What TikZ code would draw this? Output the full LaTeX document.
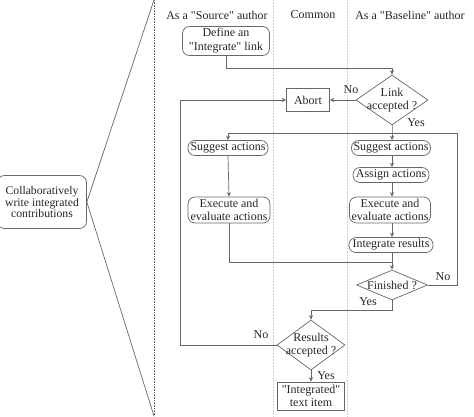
\documentclass[tikz,border=0pt]{standalone}
\usepackage{fontspec}
\setmainfont{Liberation Serif}[Ligatures=TeXOff]
\usetikzlibrary{shapes.geometric,arrows.meta}
\newcommand{\dqm}{\char34\relax}
\begin{document}
\begin{tikzpicture}[x=1pt,y=-1pt,
  every node/.style={font=\fontsize{12}{13}\selectfont, inner sep=0pt, align=center, text=black!85},
  rbox/.style={draw=black!60, line width=0.7pt, rounded corners=7pt, rectangle},
  sbox/.style={draw=black!60, line width=0.7pt, rectangle},
  dmd/.style={draw=black!60, line width=0.7pt, diamond, inner sep=0pt},
  conn/.style={draw=black!60, line width=0.7pt},
  arr/.style={conn, -{Stealth[length=4.5pt,width=4pt]}},
  lane/.style={draw=black!18, line width=0.5pt, densely dotted},
  lbl/.style={font=\fontsize{12}{13}\selectfont}
]
\useasboundingbox (0,0) rectangle (474,416);

% lane separators
\draw[lane] (273,0) -- (273,416);
\draw[lane] (347,0) -- (347,416);

% left node and bracket
\node[rbox, minimum width=89, minimum height=53, font=\fontsize{11.7}{11.5}\selectfont] (collab) at (42,202) {Collaboratively\\write integrated\\contributions};
\coordinate (ctop) at (154,0);
\coordinate (cbot) at (154,416);
\draw[conn] (collab.east) -- (ctop);
\draw[conn] (collab.east) -- (cbot);
\draw[draw=black!60, line width=0.6pt, densely dotted] (ctop) -- (cbot);

% headers
\node (h1) at (217,15) {As a \dqm Source\dqm{} author};
\node (h2) at (313,15) {Common};
\node (h3) at (410,15) {As a \dqm Baseline\dqm{} author};

% nodes
\node[rbox, minimum width=87, minimum height=29, font=\fontsize{12}{14}\selectfont] (define) at (226,41) {Define an\\\dqm Integrate\dqm{} link};
\node[dmd, minimum width=72, minimum height=50, label={[lbl,align=center]center:Link\\accepted ?}] (link) at (392,100) {};
\node[sbox, minimum width=43, minimum height=23] (abort) at (308,100) {Abort};
\node[rbox, minimum width=80, minimum height=15] (sA) at (228,148) {Suggest actions};
\node[rbox, minimum width=79, minimum height=15] (sB) at (391,148) {Suggest actions};
\node[rbox, minimum width=76, minimum height=15] (assign) at (391,175) {Assign actions};
\node[rbox, minimum width=81, minimum height=26] (exB) at (390,210) {Execute and\\evaluate actions};
\node[rbox, minimum width=82, minimum height=26] (exA) at (229,210) {Execute and\\evaluate actions};
\node[rbox, minimum width=84, minimum height=15] (integ) at (391,245) {Integrate results};
\node[dmd, minimum width=71, minimum height=30, label={[lbl]center:Finished ?}] (fin) at (392,285) {};
\node[dmd, minimum width=68, minimum height=50, label={[lbl,align=center]center:Results\\accepted ?}] (res) at (311,345) {};
\node[sbox, minimum width=67, minimum height=28] (item) at (311,396) {\dqm Integrated\dqm\\text item};

% connectors
\draw[arr] (define.south) -- ++(0,12) -| (link.north);
\draw[arr] (link.west) -- (abort.east);
\node[lbl] (noA) at (351,90) {No};
\coordinate (j1) at (392,133);
\coordinate (loopR) at (457,133);
\draw[arr] (link.south) -- (j1) -- (sB.north -| j1);
\draw[arr] (j1) -| (sA.north);
\node[lbl] (yesA) at (416,123) {Yes};
\draw[arr] (sA.south) -- (exA.north);
\draw[arr] (sB.south -| j1) -- (assign.north -| j1);
\draw[arr] (assign.south -| j1) -- (exB.north -| j1);
\draw[arr] (exB.south -| j1) -- (integ.north -| j1);
\coordinate (j2) at (392,262);
\draw[conn] (exA.south) |- (j2);
\draw[arr] (integ.south -| j1) -- (fin.north);
\draw[conn] (fin.east) -| (loopR) -- (j1);
\node[lbl] (noB) at (443,277) {No};
\draw[arr] (fin.south) -- ++(0,10) -| (res.north);
\node[lbl] (yesB) at (368,302) {Yes};
\coordinate (lft) at (180,345);
\draw[arr] (res.west) -- (lft) |- (abort.west);
\node[lbl] (noC) at (261,335) {No};
\draw[arr] (res.south) -- (item.north);
\node[lbl] (yesC) at (326,376) {Yes};
\end{tikzpicture}
\end{document}
